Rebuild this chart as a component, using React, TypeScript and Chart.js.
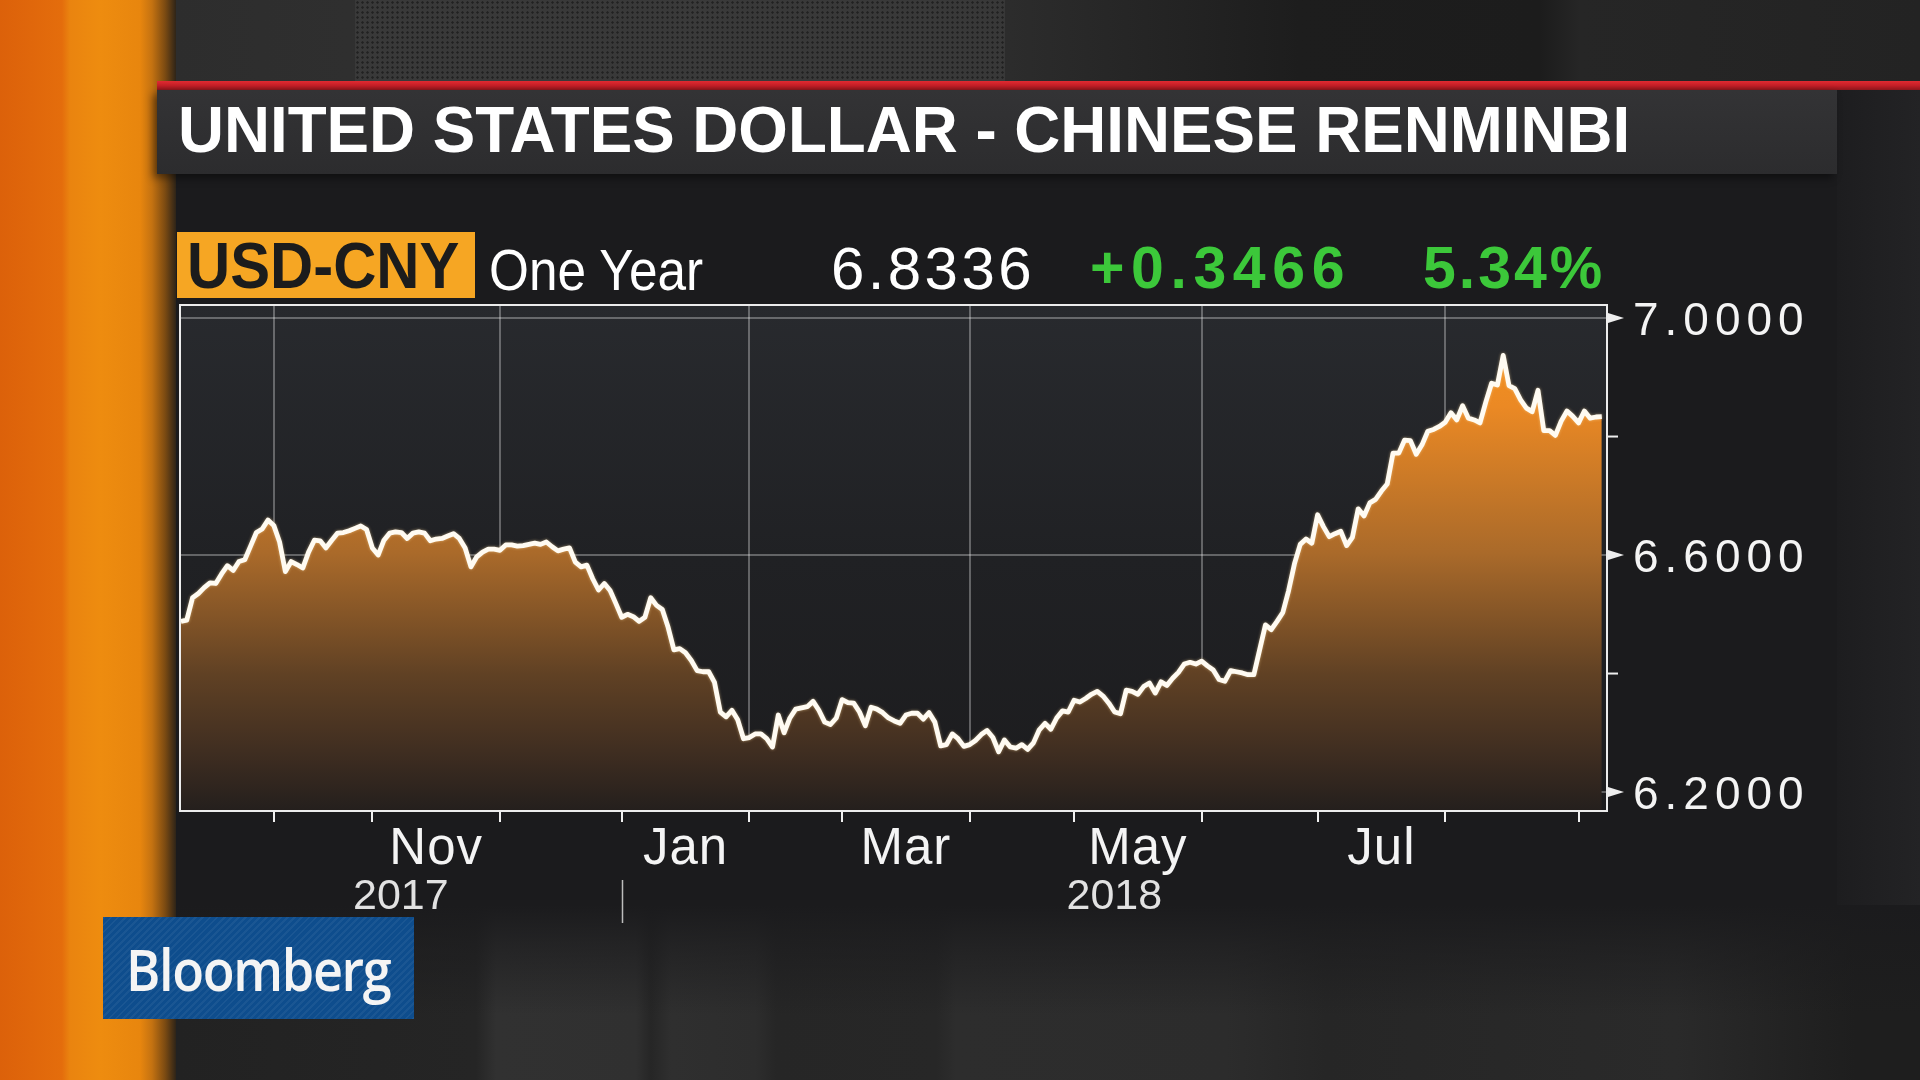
import React, { useEffect, useRef } from 'react';
import { Chart, registerables } from 'chart.js';

Chart.register(...registerables);

// ---------- DATA ----------
// USD-CNY daily close, one value per onshore trading day (8 Sep 2017 .. 7 Sep 2018)
const usdCny: number[] = [
  6.488, 6.490, 6.528, 6.535, 6.545, 6.553, 6.552, 6.568, 6.582, 6.574,
  6.589, 6.592, 6.615, 6.638, 6.644, 6.659, 6.650, 6.622, 6.572, 6.589,
  6.584, 6.578, 6.605, 6.625, 6.624, 6.612, 6.625, 6.637, 6.638, 6.641,
  6.645, 6.649, 6.643, 6.612, 6.600, 6.625, 6.637, 6.639, 6.638, 6.628,
  6.637, 6.639, 6.637, 6.624, 6.627, 6.628, 6.632, 6.636, 6.628, 6.612,
  6.580, 6.597, 6.605, 6.610, 6.610, 6.608, 6.617, 6.617, 6.615, 6.616,
  6.618, 6.620, 6.618, 6.622, 6.614, 6.607, 6.610, 6.612, 6.588, 6.580,
  6.583, 6.560, 6.541, 6.552, 6.540, 6.518, 6.495, 6.500, 6.496, 6.488,
  6.495, 6.528, 6.515, 6.508, 6.478, 6.440, 6.442, 6.435, 6.422, 6.405,
  6.403, 6.403, 6.385, 6.335, 6.327, 6.338, 6.322, 6.290, 6.292, 6.298,
  6.298, 6.290, 6.276, 6.330, 6.300, 6.325, 6.340, 6.342, 6.344, 6.353,
  6.338, 6.318, 6.314, 6.325, 6.356, 6.351, 6.350, 6.335, 6.312, 6.343,
  6.340, 6.334, 6.325, 6.320, 6.316, 6.330, 6.333, 6.333, 6.323, 6.334,
  6.318, 6.278, 6.280, 6.298, 6.290, 6.277, 6.280, 6.287, 6.297, 6.304,
  6.292, 6.268, 6.288, 6.276, 6.274, 6.280, 6.272, 6.283, 6.305, 6.316,
  6.306, 6.325, 6.337, 6.335, 6.355, 6.352, 6.358, 6.365, 6.370, 6.362,
  6.350, 6.335, 6.332, 6.372, 6.370, 6.365, 6.378, 6.384, 6.367, 6.386,
  6.380, 6.392, 6.402, 6.416, 6.419, 6.416, 6.421, 6.413, 6.406, 6.390,
  6.387, 6.405, 6.403, 6.401, 6.398, 6.398, 6.440, 6.482, 6.474, 6.488,
  6.503, 6.540, 6.585, 6.618, 6.627, 6.620, 6.668, 6.648, 6.631, 6.636,
  6.640, 6.616, 6.630, 6.678, 6.666, 6.688, 6.694, 6.708, 6.720, 6.772,
  6.772, 6.794, 6.793, 6.770, 6.786, 6.809, 6.812, 6.817, 6.824, 6.840,
  6.828, 6.852, 6.831, 6.828, 6.823, 6.858, 6.890, 6.887, 6.937, 6.886,
  6.881, 6.862, 6.848, 6.842, 6.878, 6.810, 6.810, 6.802, 6.826, 6.843,
  6.834, 6.823, 6.843, 6.831, 6.833, 6.8336,
];

// trading-day index of the first session of each month (Oct 2017 .. Sep 2018)
const monthStarts: number[] = [16, 33, 55, 76, 98, 114, 136, 154, 176, 196, 218, 241];
// month starts that carry a vertical grid line (Oct, Dec, Feb, Apr, Jun, Aug)
const gridMonthStarts: number[] = [16, 55, 98, 136, 176, 218];
// labelled months and their trading-day spans
const monthNames: string[] = ['Nov', 'Jan', 'Mar', 'May', 'Jul'];
const monthFrom: number[] = [33, 76, 114, 154, 196];
const monthTo: number[] = [55, 98, 136, 176, 218];
// year labels
const yearNames: string[] = ['2017', '2018'];
const yearBreak = 76;

const xMin = -0.17;
const xMax = 245.9;
const yMin = 6.168;
const yMax = 7.022;
const yTicks: number[] = [6.2, 6.4, 6.6, 6.8, 7.0];
const yLabelTicks: number[] = [6.2, 6.6, 7.0];

const titleText = 'UNITED STATES DOLLAR - CHINESE RENMINBI';
const tickerText = 'USD-CNY';
const periodText = 'One Year';
const lastText = '6.8336';
const changeText = '+0.3466';
const pctText = '5.34%';

const SANS = '"Liberation Sans", Arial, Helvetica, sans-serif';

// ---------- PLUGINS ----------
const plotBackground = {
  id: 'plotBackground',
  beforeDraw(chart: any) {
    const { ctx, chartArea: ca } = chart;
    if (!ca) return;
    const g = ctx.createLinearGradient(0, ca.top, 0, ca.bottom);
    g.addColorStop(0, '#282a2e');
    g.addColorStop(0.5, '#202124');
    g.addColorStop(1, '#1c1c1e');
    ctx.save();
    ctx.fillStyle = g;
    ctx.fillRect(ca.left, ca.top, ca.right - ca.left, ca.bottom - ca.top);
    ctx.restore();
  },
};

const lineGlow = {
  id: 'lineGlow',
  beforeDatasetDraw(chart: any) {
    const ctx = chart.ctx;
    ctx.save();
    ctx.shadowColor = 'rgba(255,220,160,0.55)';
    ctx.shadowBlur = 3;
  },
  afterDatasetDraw(chart: any) {
    chart.ctx.restore();
  },
};

const frameAndText = {
  id: 'frameAndText',
  afterDraw(chart: any) {
    const { ctx, chartArea: ca, scales } = chart;
    const xs = scales.x;
    const ys = scales.y;
    ctx.save();
    // frame
    ctx.strokeStyle = '#ececec';
    ctx.lineWidth = 2;
    ctx.strokeRect(ca.left, ca.top, ca.right - ca.left, ca.bottom - ca.top);

    // y tick marks
    ctx.fillStyle = '#eeeeee';
    yTicks.forEach((v) => {
      const py = ys.getPixelForValue(v);
      if (yLabelTicks.includes(v)) {
        ctx.beginPath();
        ctx.moveTo(ca.right + 1, py - 5);
        ctx.lineTo(ca.right + 17, py);
        ctx.lineTo(ca.right + 1, py + 5);
        ctx.closePath();
        ctx.fill();
      } else {
        ctx.fillRect(ca.right + 1, py - 1, 10, 2);
      }
    });

    // y labels
    ctx.fillStyle = '#f4f4f4';
    ctx.font = `46px ${SANS}`;
    ctx.textAlign = 'left';
    ctx.textBaseline = 'alphabetic';
    (ctx as any).letterSpacing = '6px';
    yLabelTicks.forEach((v) => {
      ctx.fillText(v.toFixed(4), ca.right + 26, ys.getPixelForValue(v) + 16.5);
    });

    // month labels
    (ctx as any).letterSpacing = '1px';
    ctx.font = `51px ${SANS}`;
    ctx.textAlign = 'center';
    ctx.fillStyle = '#f4f4f4';
    monthNames.forEach((m, i) => {
      const cx = (xs.getPixelForValue(monthFrom[i]) + xs.getPixelForValue(monthTo[i])) / 2;
      ctx.fillText(m, cx, ca.bottom + 52.5);
    });

    // year labels
    (ctx as any).letterSpacing = '0px';
    ctx.font = `43px ${SANS}`;
    ctx.fillStyle = '#e2e2e2';
    const yearFrom = [xMin, yearBreak];
    const yearTo = [yearBreak, xMax];
    yearNames.forEach((yn, i) => {
      const cx = (xs.getPixelForValue(yearFrom[i]) + xs.getPixelForValue(yearTo[i])) / 2;
      ctx.fillText(yn, cx, ca.bottom + 98);
    });

    // year separator
    const sx = Math.round(xs.getPixelForValue(yearBreak)) + 0.5;
    ctx.strokeStyle = '#bdbdbd';
    ctx.lineWidth = 1.5;
    ctx.beginPath();
    ctx.moveTo(sx, ca.bottom + 69);
    ctx.lineTo(sx, ca.bottom + 112);
    ctx.stroke();
    ctx.restore();
  },
};

// ---------- HTML TEXT HELPER ----------
function Txt(props: { x: number; base: number; fs: number; k?: number; children: any; style?: any }) {
  const k = props.k ?? 0.8465;
  return (
    <div
      style={{
        position: 'absolute',
        left: props.x,
        top: props.base - k * props.fs,
        fontSize: props.fs,
        lineHeight: `${props.fs}px`,
        whiteSpace: 'nowrap',
        transformOrigin: '0 0',
        fontFamily: SANS,
        ...props.style,
      }}
    >
      {props.children}
    </div>
  );
}

export default function App() {
  const canvasRef = useRef<HTMLCanvasElement | null>(null);

  useEffect(() => {
    const canvas = canvasRef.current;
    if (!canvas) return;
    const chart = new Chart(canvas, {
      type: 'line',
      data: {
        datasets: [
          {
            data: usdCny.map((v, i) => ({ x: i, y: v })),
            borderColor: '#fffbf2',
            borderWidth: 4.8,
            borderJoinStyle: 'round',
            pointRadius: 0,
            tension: 0,
            fill: 'start',
            backgroundColor: (c: any) => {
              const ca = c.chart.chartArea;
              if (!ca) return 'rgba(0,0,0,0)';
              const g = c.chart.ctx.createLinearGradient(0, ca.top, 0, ca.bottom);
              g.addColorStop(0, '#f8971c');
              g.addColorStop(0.2, '#eb8924');
              g.addColorStop(0.49, '#aa6a2a');
              g.addColorStop(0.73, '#604124');
              g.addColorStop(0.88, '#402e21');
              g.addColorStop(1, '#241f1d');
              return g;
            },
          } as any,
        ],
      },
      options: {
        animation: false,
        responsive: false,
        maintainAspectRatio: false,
        events: [],
        layout: { padding: { left: 180, top: 305, right: 253, bottom: 249 } },
        plugins: { legend: { display: false }, tooltip: { enabled: false } },
        scales: {
          x: {
            type: 'linear',
            min: xMin,
            max: xMax,
            z: 1,
            afterBuildTicks: (s: any) => {
              s.ticks = monthStarts.map((v) => ({ value: v }));
            },
            afterFit: (s: any) => {
              s.height = 20;
            },
            ticks: { display: false },
            border: { display: false },
            grid: {
              color: (c: any) =>
                c.tick && gridMonthStarts.includes(c.tick.value) ? 'rgba(255,255,255,0.3)' : 'rgba(0,0,0,0)',
              lineWidth: 2,
              drawTicks: true,
              tickLength: 11,
              tickColor: '#f0f0f0',
              tickWidth: 2,
            },
          },
          y: {
            type: 'linear',
            position: 'right',
            min: yMin,
            max: yMax,
            z: 1,
            afterBuildTicks: (s: any) => {
              s.ticks = yTicks.map((v) => ({ value: v }));
            },
            afterFit: (s: any) => {
              s.width = 60;
            },
            ticks: { display: false },
            border: { display: false },
            grid: {
              color: (c: any) =>
                c.tick && yLabelTicks.includes(c.tick.value) ? 'rgba(255,255,255,0.3)' : 'rgba(0,0,0,0)',
              lineWidth: 2,
              drawTicks: false,
            },
          },
        } as any,
      },
      plugins: [plotBackground, lineGlow, frameAndText],
    });
    return () => chart.destroy();
  }, []);

  return (
    <div
      style={{
        position: 'fixed',
        left: 0,
        top: 0,
        width: 1920,
        height: 1080,
        overflow: 'hidden',
        background: '#1b1b1d',
        fontFamily: SANS,
      }}
    >
      {/* top band */}
      <div
        style={{
          position: 'absolute', left: 0, top: 0, width: 1920, height: 90,
          background:
            'linear-gradient(90deg, #2b2b2b 0px, #2f2f2f 350px, #353535 700px, #2c2c2c 1010px, #1d1d1d 1300px, #1c1c1c 1540px, #262626 1580px, #232323 1920px)',
        }}
      />
      {/* dotted texture */}
      <div
        style={{
          position: 'absolute', left: 355, top: 0, width: 650, height: 82,
          backgroundColor: '#3b3b3b',
          backgroundImage: 'radial-gradient(circle, rgba(22,22,22,0.75) 0.9px, rgba(0,0,0,0) 1.5px)',
          backgroundSize: '5px 5px',
          opacity: 0.85,
        }}
      />
      {/* right side strip */}
      <div style={{ position: 'absolute', left: 1837, top: 90, width: 83, height: 830, background: 'linear-gradient(90deg, #1d1d1f, #232325)' }} />
      {/* bottom blurred area */}
      <div
        style={{
          position: 'absolute', left: 176, top: 905, width: 1744, height: 175,
          background:
            'linear-gradient(90deg, #222 0px, #252525 300px, #313131 320px, #303030 460px, #262626 475px, #2f2f2f 495px, #2d2d2d 580px, #262626 600px, #272727 760px, #2d2d2d 780px, #2c2c2c 1050px, #262626 1150px, #2a2a2a 1500px, #1e1e1e 1680px)',
        }}
      />
      <div
        style={{
          position: 'absolute', left: 176, top: 905, width: 1744, height: 175,
          background: 'linear-gradient(180deg, #1b1b1d 0px, rgba(27,27,29,0.6) 40px, rgba(27,27,29,0) 110px)',
        }}
      />
      {/* orange strip */}
      <div
        style={{
          position: 'absolute', left: 0, top: 0, width: 176, height: 1080,
          background:
            'linear-gradient(90deg, #dc610a 0px, #e46d0c 62px, #ea840f 70px, #ee8c0f 100px, #e8860e 140px, #c47211 152px, #7c4b12 165px, #2e2418 176px)',
        }}
      />
      {/* red rule */}
      <div
        style={{
          position: 'absolute', left: 157, top: 81, width: 1763, height: 9,
          background: 'linear-gradient(180deg, #e02a31 0%, #c41f27 50%, #8e151b 100%)',
        }}
      />
      {/* title bar */}
      <div
        style={{
          position: 'absolute', left: 157, top: 90, width: 1680, height: 84,
          background: 'linear-gradient(180deg, #333335 0%, #2c2c2e 100%)',
          boxShadow: '-4px 4px 8px rgba(0,0,0,0.45)',
        }}
      />
      <Txt x={177.5} base={152} fs={65} style={{ color: '#ffffff', fontWeight: 700, transform: 'scaleX(0.98)' }}>
        {titleText}
      </Txt>

      {/* header row */}
      <div style={{ position: 'absolute', left: 177, top: 232, width: 298, height: 66, background: '#f6a623' }} />
      <Txt x={187} base={288.5} fs={65} style={{ color: '#1c1c1c', fontWeight: 700, transform: 'scaleX(0.92)' }}>
        {tickerText}
      </Txt>
      <Txt x={489} base={290} fs={58} style={{ color: '#ffffff', transform: 'scaleX(0.885)' }}>
        {periodText}
      </Txt>
      <Txt x={831} base={290} fs={60} style={{ color: '#ffffff', letterSpacing: '3.4px' }}>
        {lastText}
      </Txt>
      <Txt x={1090} base={289} fs={59} style={{ color: '#3cc83a', fontWeight: 700, letterSpacing: '6.6px' }}>
        {changeText}
      </Txt>
      <Txt x={1423} base={289} fs={59} style={{ color: '#3cc83a', fontWeight: 700, letterSpacing: '3px' }}>
        {pctText}
      </Txt>

      {/* chart */}
      <canvas
        ref={canvasRef}
        width={1920}
        height={1080}
        style={{ position: 'absolute', left: 0, top: 0, width: 1920, height: 1080 }}
      />

      {/* Bloomberg logo */}
      <div
        style={{
          position: 'absolute', left: 103, top: 917, width: 311, height: 102,
          backgroundColor: '#0e4d8d',
          backgroundImage:
            'repeating-linear-gradient(135deg, rgba(255,255,255,0.05) 0px, rgba(255,255,255,0.05) 2px, rgba(0,0,0,0) 2px, rgba(0,0,0,0) 5px)',
        }}
      />
      <Txt x={126} base={992} fs={58} k={0.888} style={{ color: '#f4f4f4', fontFamily: '"Open Sans", Lato, sans-serif', fontWeight: 600, letterSpacing: '-1.5px', transform: 'scaleX(0.9)' }}>
        Bloomberg
      </Txt>
    </div>
  );
}
